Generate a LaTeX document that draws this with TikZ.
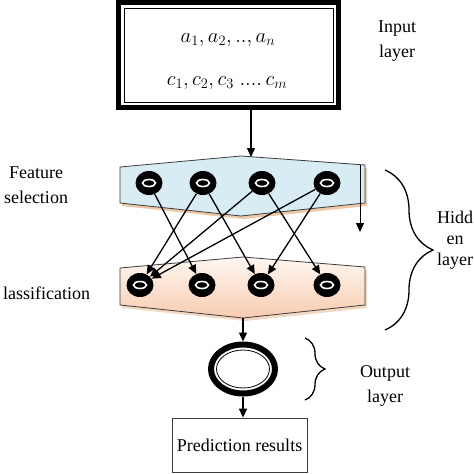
\documentclass[tikz,border=0pt]{standalone}
\usepackage{fontspec}
\setmainfont{Liberation Serif}
\usetikzlibrary{arrows.meta, shapes.geometric, decorations.pathreplacing}
\definecolor{layerblue}{RGB}{216,236,244}
\definecolor{layerpeach}{RGB}{248,204,176}
\definecolor{peachlight}{RGB}{254,247,242}
\definecolor{shadowpeach}{RGB}{236,200,166}
\definecolor{edgegray}{RGB}{60,60,60}

\begin{document}
\begin{tikzpicture}[x=1pt, y=-1pt,
	arr/.style={-{Triangle[length=9pt,width=8pt]}, line width=1.3pt},
	neuron/.style={ellipse, fill=black, minimum width=27pt, minimum height=24pt, inner sep=0pt,
		path picture={\draw[white, line width=1.6pt] (path picture bounding box.center) ellipse (6.5pt and 3.5pt);}},
	lbl/.style={align=center, font=\fontsize{18}{25}\selectfont},
	brc/.style={decorate, decoration={brace, amplitude=#1}, line width=1.3pt}]
		\useasboundingbox (0,0) rectangle (474,474);
		% input layer
		\node[draw, line width=5pt, minimum width=220pt, minimum height=105pt] (inbox) at (228.5,55) {};
		\draw[line width=0.8pt] ([shift={(8pt,-8pt)}]inbox.north west) rectangle ([shift={(-8pt,8pt)}]inbox.south east);
		\node[font=\fontsize{20}{24}\selectfont] (avals) at (228,40) {$a_1, a_2, .., a_n$};
		\node[font=\fontsize{20}{24}\selectfont] (cvals) at (227,83) {$c_1, c_2, c_3\;....\,c_m$};
		% feature selection layer
		\fill[shadowpeach, shift={(2,3)}] (120,167) -- (241,156) -- (365,165) -- (365,203) -- (241,216) -- (120,203) -- cycle;
		\filldraw[fill=layerblue, draw=edgegray, line width=0.8pt] (120,167) -- (241,156) -- (365,165) -- (365,203) -- (241,216) -- (120,203) -- cycle;
		\coordinate (topA) at (251,157);
		% classification layer
		\fill[shadowpeach!70, shift={(2,3)}] (120,268) -- (243,257) -- (365,267) -- (365,305) -- (243,318) -- (120,305) -- cycle;
		\path[draw=edgegray, line width=0.8pt, top color=peachlight, bottom color=layerpeach] (120,268) -- (243,257) -- (365,267) -- (365,305) -- (243,318) -- (120,305) -- cycle;
		\coordinate (botB) at (243,318);
		% neurons
		\foreach \x [count=\i] in {149,203,262,327}
		{
			\node[neuron] (f\i) at (\x,183) {};
		}
		\foreach \x [count=\i] in {140,202,261,327}
		{
			\node[neuron] (c\i) at (\x,285) {};
		}
		% connections between the layers
		\foreach \a/\b in {1/2,2/1,2/3,3/1,3/4,4/1,4/3}
		{
			\draw[arr] (f\a) -- (c\b);
		}
		\coordinate (sideA) at (360,165);
		\coordinate (sideB) at (360,232);
		\draw[arr, line width=1pt] (sideA) -- (sideB);
		% output layer
		\node[ellipse, draw, line width=6pt, minimum width=64pt, minimum height=49pt, inner sep=0pt,
			path picture={\draw[line width=0.8pt] (path picture bounding box.center) ellipse (26.5pt and 19pt);}] (out) at (243,369) {};
		\node[draw=edgegray, line width=0.8pt, minimum width=135pt, minimum height=54pt,
			font=\fontsize{18}{22}\selectfont] (pred) at (239.5,445) {Prediction results};
		% arrows down the network
		\draw[arr] (inbox.south -| topA) -- (topA);
		\draw[arr] (botB) -- (out);
		\draw[arr] (out) -- (pred.north -| out);
		% braces
		\draw[brc=48pt] (385,170) -- (385,330);
		\draw[brc=20pt] (305,338) -- (305,400);
		% other labels
		\node[lbl] (inlbl) at (397,41) {Input\\layer};
		\node[lbl] (fslbl) at (36,185) {Feature\\selection};
		\node[lbl, anchor=west, inner sep=0pt] (cllbl) at (3,293) {lassification};
		\node[lbl, font=\fontsize{18}{21}\selectfont] (hdlbl) at (455,240) {Hidd\\en\\layer};
		\node[lbl] (outlbl) at (385,386) {Output\\layer};
	\end{tikzpicture}
\end{document}
